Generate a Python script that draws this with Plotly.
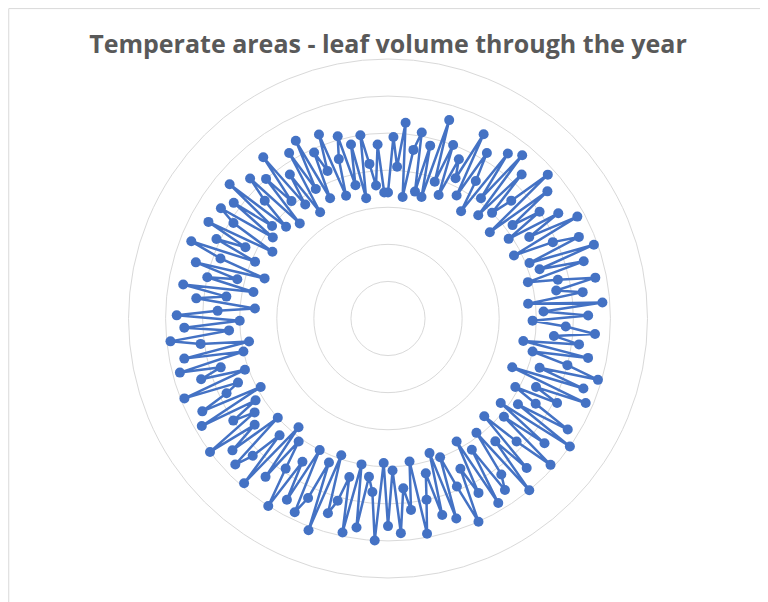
import plotly.graph_objects as go

# leaf volume readings, clockwise from the top of the year
volume = [
    3.4, 4.9, 4.1, 5.3, 3.3, 4.6, 5.1, 3.5, 4.8, 3.4, 5.6, 3.9, 5.0, 3.6, 4.7,
    4.2, 5.6, 3.8, 5.2, 4.4, 3.5, 5.5, 4.1, 5.7, 3.7, 5.3, 4.0, 4.6, 5.8, 3.6,
    5.5, 4.2, 5.0, 3.9, 5.4, 4.4, 5.8, 3.8, 4.9, 5.6, 4.1, 5.9, 4.3, 5.5, 3.9,
    4.7, 5.7, 4.6, 5.3, 3.8, 5.8, 4.2, 5.4, 3.9, 4.8, 5.6, 4.5, 5.2, 3.7, 5.5,
    4.0, 5.0, 5.9, 4.3, 5.6, 3.6, 5.8, 4.4, 5.1, 3.9, 4.6, 5.7, 4.2, 6.0, 3.8,
    5.4, 4.1, 5.9, 4.8, 3.7, 5.5, 4.4, 6.0, 3.9, 5.2, 5.6, 4.2, 5.8, 3.8, 5.3,
    4.5, 6.0, 4.9, 4.0, 5.7, 3.8, 5.5, 4.3, 5.0, 5.9, 3.9, 5.2, 4.6, 5.8, 4.1,
    5.6, 3.9, 6.0, 4.7, 4.3, 5.7, 4.0, 5.9, 4.4, 5.1, 5.5, 3.9, 6.1, 4.2, 5.3,
    5.8, 4.0, 5.6, 4.5, 6.0, 4.9, 4.1, 5.4, 3.8, 5.9, 4.3, 5.2, 5.7, 4.0, 5.5,
    4.6, 6.0, 4.4, 5.0, 4.2, 5.8, 3.9, 5.6, 4.8, 4.4, 5.9, 4.1, 5.3, 4.7, 5.8,
    4.0, 5.6, 3.8, 5.1, 5.9, 4.3, 5.5, 4.0, 5.7, 4.6, 3.6, 5.2, 4.4, 5.6, 3.7,
    5.0, 4.2, 5.4, 3.5, 4.8, 5.7, 3.9, 5.1, 4.3, 5.5, 3.6, 4.9, 5.4, 3.8, 5.2,
    4.0, 5.6, 3.7, 4.6, 5.3, 3.5, 5.0, 4.1, 5.5, 3.8, 4.7, 3.4, 5.2, 4.0, 5.4,
    3.6, 4.9, 4.3, 5.3, 3.5, 4.5, 5.1, 3.7, 4.8, 3.3, 5.0, 4.2, 3.6, 4.7, 3.4,
]
days = [i * 360 / len(volume) for i in range(len(volume))]

fig = go.Figure()
fig.add_trace(go.Scatterpolar(
    r=volume, theta=days, mode='lines+markers',
    line=dict(color='#4472c4', width=2.5),
    marker=dict(color='#4472c4', size=10),
    showlegend=False,
))
fig.update_layout(
    width=760, height=600,
    margin=dict(l=0, r=0, t=0, b=0),
    paper_bgcolor='white',
    title=dict(text='<b>Temperate areas - leaf volume through the year</b>',
               x=0.5, y=0.94, xanchor='center', yanchor='middle',
               font=dict(family='Open Sans', size=25, color='#595959')),
    polar=dict(
        domain=dict(x=[0.158, 0.842], y=[0.05, 0.915]),
        bgcolor='white',
        radialaxis=dict(range=[0, 7], dtick=1, showticklabels=False,
                        showline=False, ticks='', gridcolor='#d9d9d9'),
        angularaxis=dict(rotation=90, direction='clockwise',
                         showgrid=False, showline=True, linecolor='#d9d9d9',
                         showticklabels=False, ticks=''),
    ),
)
fig.add_shape(type='rect', xref='paper', yref='paper', x0=0.001, y0=0.001,
              x1=0.999, y1=0.999, line=dict(color='#d9d9d9', width=1))
fig.write_html('out.html')
